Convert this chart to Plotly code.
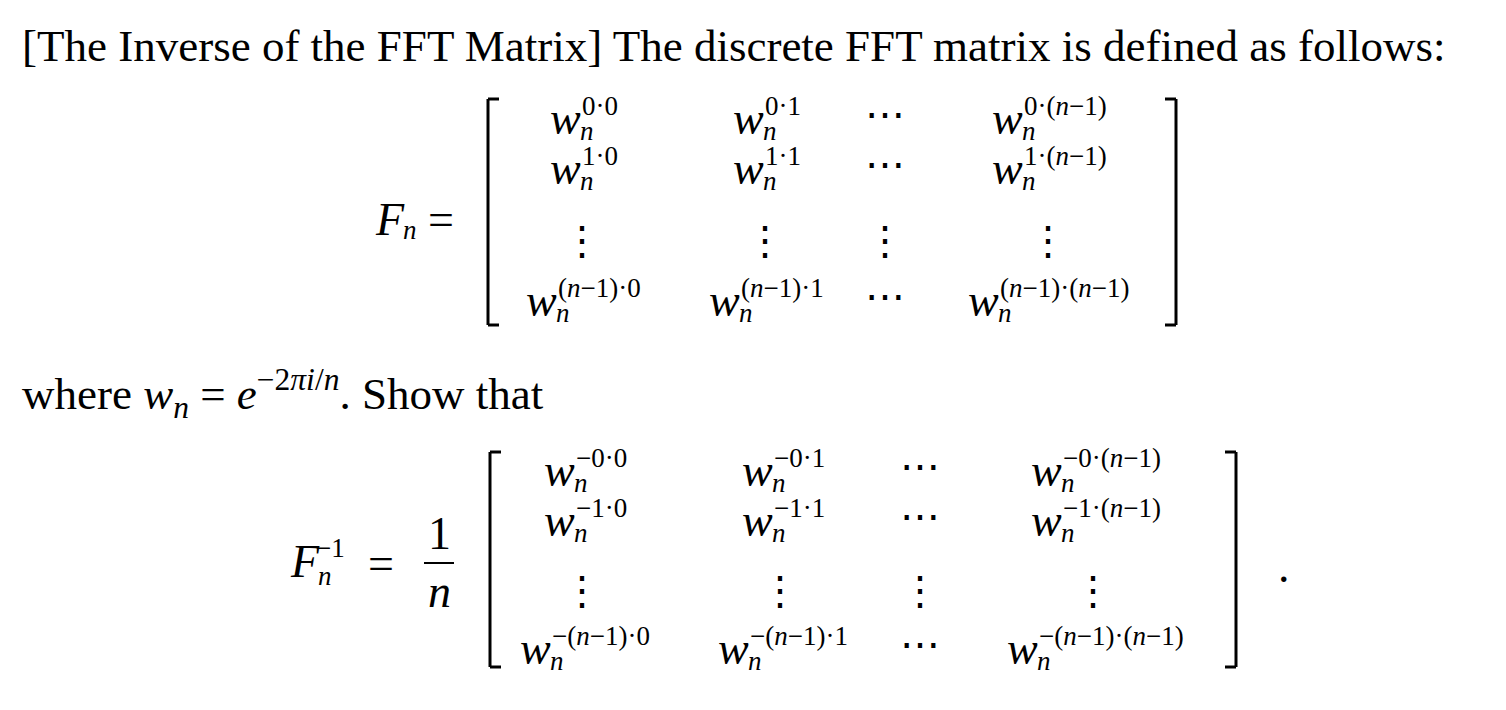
import plotly.graph_objects as go

title_text = "[The Inverse of the FFT Matrix] The discrete FFT matrix is defined as follows:"
mid_text = "where <i>w<sub>n</sub></i> = <i>e</i><sup>−2<i>πi</i>/<i>n</i></sup>. Show that"

exps_fwd = [["0·0", "0·1", None, "0·(n−1)"],
            ["1·0", "1·1", None, "1·(n−1)"],
            [":", ":", ":", ":"],
            ["(n−1)·0", "(n−1)·1", None, "(n−1)·(n−1)"]]
exps_inv = [["−0·0", "−0·1", None, "−0·(n−1)"],
            ["−1·0", "−1·1", None, "−1·(n−1)"],
            [":", ":", ":", ":"],
            ["−(n−1)·0", "−(n−1)·1", None, "−(n−1)·(n−1)"]]

SERIF = "Liberation Serif"
BIG, SMALL = 46, 27
ann = []
shapes = []

def txt(x, y, t, size=BIG, anchor="left"):
    ann.append(dict(x=x, y=y, text=t, showarrow=False, xanchor=anchor, yanchor="middle",
                    font=dict(family=SERIF, size=size, color="black")))

def matrix(exps, cols, rows, left, right, top, bottom):
    for r, row in enumerate(exps):
        for c, e in enumerate(row):
            cx, cy = cols[c], rows[r]
            if e == ":":
                txt(cx, cy, "⋮", 40, "center")
            elif e is None:
                txt(cx, cy - 4, "⋯", 40, "center")
            else:
                ew = len(e) * 12
                x0 = cx - (32 + ew) / 2
                txt(x0, cy, "<i>w</i>")
                txt(x0 + 32, cy - 12, e.replace("n", "<i>n</i>"), SMALL)
                txt(x0 + 30, cy + 13, "<i>n</i>", SMALL)
    for xb, d in ((left, 1), (right, -1)):
        shapes.append(dict(type="line", x0=xb, x1=xb, y0=top, y1=bottom, line=dict(color="black", width=3)))
        for yy in (top, bottom):
            shapes.append(dict(type="line", x0=xb, x1=xb + d * 11, y0=yy, y1=yy, line=dict(color="black", width=3)))

txt(12, 38, title_text, 45)
txt(12, 385, mid_text, 45)

# F_n =
txt(365, 211, "<i>F</i>", BIG)
txt(393, 222, "<i>n</i>", SMALL)
txt(418, 211, "=", BIG)
matrix(exps_fwd, [574, 757, 877, 1040], [110, 160, 232, 292], 480, 1168, 91, 317)

# F_n^{-1} = 1/n
txt(280, 553, "<i>F</i>", BIG)
txt(308, 568, "<i>n</i>", SMALL)
txt(306, 540, "−1", SMALL)
txt(358, 555, "=", BIG)
txt(431, 525, "1", BIG, "center")
txt(431, 583, "<i>n</i>", BIG, "center")
shapes.append(dict(type="line", x0=416, x1=446, y0=555, y1=555, line=dict(color="black", width=2)))
matrix(exps_inv, [574, 772, 912, 1085], [462, 512, 582, 640], 482, 1228, 444, 659)
txt(1268, 558, ".", BIG)

fig = go.Figure()
fig.update_layout(width=1506, height=710, margin=dict(l=0, r=0, t=0, b=0),
                  plot_bgcolor="white", paper_bgcolor="white",
                  xaxis=dict(range=[0, 1506], visible=False),
                  yaxis=dict(range=[710, 0], visible=False),
                  annotations=ann, shapes=shapes)
fig.write_html("out.html")
